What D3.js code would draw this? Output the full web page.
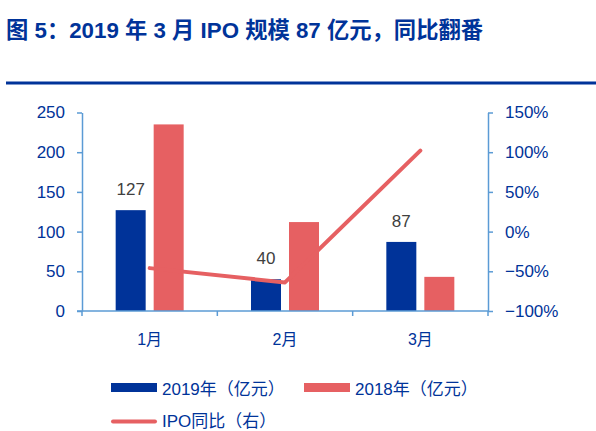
<!DOCTYPE html>
<html>
<head>
<meta charset="utf-8">
<script src="https://cdn.jsdelivr.net/npm/d3@7"></script>
<style>
  body { margin: 0; background: #fff; }
  svg { display: block; font-family: "Liberation Sans", Arial, "Noto Sans CJK SC", sans-serif; }
</style>
</head>
<body>
<div id="chart"></div>
<script>
// Data
const months = ["1月", "2月", "3月"];
const series = ["2019年（亿元）", "2018年（亿元）"];
const ipo2019 = [127, 40, 87];
const ipo2018 = [235, 112, 43];
const yoy = [-0.46, -0.64, 1.02];
const leftTicks = [0, 50, 100, 150, 200, 250];
const rightTicks = [-1, -0.5, 0, 0.5, 1, 1.5];
const lineName = "IPO同比（右）";

const navy = "#003399";
const red = "#E66062";
const axisColor = "#5B9BD5";
const textColor = "#003399";

const W = 596, H = 431;
const plot = { left: 82, right: 488, top: 112.5, bottom: 311 };

const svg = d3.select("#chart")
    .append("svg")
    .attr("width", W)
    .attr("height", H);

// Title and rule
svg.append("text")
    .attr("x", 6)
    .attr("y", 38)
    .attr("font-family", "'Liberation Sans', 'Noto Sans CJK SC', sans-serif")
    .attr("font-weight", "bold")
    .attr("font-size", 22.3)
    .attr("fill", navy)
    .text("图 5：2019 年 3 月 IPO 规模 87 亿元，同比翻番");

svg.append("rect")
    .attr("x", 6).attr("y", 81.5)
    .attr("width", W - 6).attr("height", 3)
    .attr("fill", navy);

// Scales
const x = d3.scaleBand()
    .domain(months)
    .range([plot.left, plot.right]);

const bw = x.bandwidth();
const xSub = d3.scaleBand()
    .domain(series)
    .range([bw / 2 - 34, bw / 2 + 34])
    .paddingInner(8 / 38);

const yL = d3.scaleLinear().domain([0, 250]).range([plot.bottom, plot.top]);
const yR = d3.scaleLinear().domain([-1, 1.5]).range([plot.bottom, plot.top]);

// Bars
const barData = months.map((m, i) => ({ m, values: [ipo2019[i], ipo2018[i]] }));
const groups = svg.selectAll("g.grp")
    .data(barData)
    .join("g")
    .attr("class", "grp")
    .attr("transform", d => `translate(${x(d.m)},0)`);

groups.selectAll("rect")
    .data(d => d.values.map((v, j) => ({ s: series[j], v })))
    .join("rect")
    .attr("x", d => xSub(d.s))
    .attr("y", d => yL(d.v))
    .attr("width", xSub.bandwidth())
    .attr("height", d => yL(0) - yL(d.v))
    .attr("fill", (d, j) => j === 0 ? navy : red);

// Labels on 2019 bars
groups.append("text")
    .attr("x", xSub(series[0]) + xSub.bandwidth() / 2)
    .attr("y", (d, i) => yL(ipo2019[i]) - 15)
    .attr("text-anchor", "middle")
    .attr("font-size", 17)
    .attr("fill", "#404040")
    .text((d, i) => ipo2019[i]);

// Left axis
const gL = svg.append("g")
    .attr("transform", `translate(${plot.left},0)`)
    .call(d3.axisLeft(yL).tickValues(leftTicks).tickSize(5).tickSizeOuter(0).tickPadding(12));
gL.select(".domain").attr("stroke", axisColor).attr("stroke-width", 1.5);
gL.selectAll(".tick line").attr("stroke", axisColor).attr("stroke-width", 1.5);
gL.selectAll(".tick text").attr("fill", textColor).attr("font-size", 17)
    .attr("font-family", "'Liberation Sans', Arial, sans-serif");

// Right axis
const gR = svg.append("g")
    .attr("transform", `translate(${plot.right},0)`)
    .call(d3.axisRight(yR).tickValues(rightTicks).tickSize(5).tickSizeOuter(0).tickPadding(12)
        .tickFormat(d3.format(".0%")));
gR.select(".domain").attr("stroke", axisColor).attr("stroke-width", 1.5);
gR.selectAll(".tick line").attr("stroke", axisColor).attr("stroke-width", 1.5);
gR.selectAll(".tick text").attr("fill", textColor).attr("font-size", 17)
    .attr("font-family", "'Liberation Sans', Arial, sans-serif");

// Bottom axis: baseline, ticks at band edges, labels at centres
svg.append("line")
    .attr("x1", plot.left - 5).attr("x2", plot.right)
    .attr("y1", yL(0)).attr("y2", yL(0))
    .attr("stroke", axisColor).attr("stroke-width", 1.5);

const edges = months.map(m => x(m)).concat([plot.right]);
svg.selectAll("line.edge")
    .data(edges)
    .join("line")
    .attr("class", "edge")
    .attr("x1", d => d).attr("x2", d => d)
    .attr("y1", yL(0)).attr("y2", yL(0) + 5)
    .attr("stroke", axisColor).attr("stroke-width", 1.5);

svg.selectAll("text.cat")
    .data(months)
    .join("text")
    .attr("class", "cat")
    .attr("x", d => x(d) + bw / 2)
    .attr("y", 345)
    .attr("text-anchor", "middle")
    .attr("font-size", 16)
    .attr("fill", textColor)
    .text(d => d);

// YoY line
const line = d3.line()
    .x((d, i) => x(months[i]) + bw / 2)
    .y(d => yR(d));

svg.append("path")
    .datum(yoy)
    .attr("d", line)
    .attr("fill", "none")
    .attr("stroke", red)
    .attr("stroke-width", 4)
    .attr("stroke-linecap", "round")
    .attr("stroke-linejoin", "round");

// Legend
const legend = svg.append("g").attr("font-size", 17).attr("fill", textColor);
const legendItems = [
    { name: series[0], color: navy, type: "rect", x: 111, cy: 387.5, base: 395 },
    { name: series[1], color: red, type: "rect", x: 304, cy: 387.5, base: 395 },
    { name: lineName, color: red, type: "line", x: 111, cy: 421.5, base: 427 }
];
legendItems.forEach(d => {
    if (d.type === "rect") {
        legend.append("rect")
            .attr("x", d.x).attr("y", d.cy - 4.5)
            .attr("width", 46).attr("height", 9)
            .attr("fill", d.color);
    } else {
        legend.append("line")
            .attr("x1", d.x + 2).attr("x2", d.x + 44)
            .attr("y1", d.cy).attr("y2", d.cy)
            .attr("stroke", d.color).attr("stroke-width", 4)
            .attr("stroke-linecap", "round");
    }
    legend.append("text")
        .attr("x", d.x + 51)
        .attr("y", d.base)
        .text(d.name);
});
</script>
</body>
</html>
